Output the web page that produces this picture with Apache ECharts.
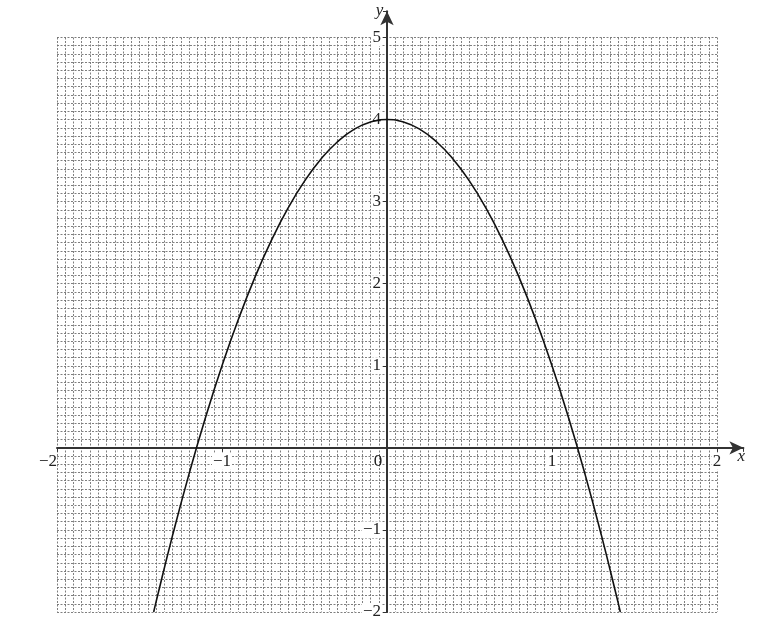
<!DOCTYPE html>
<html>
<head>
<meta charset="utf-8">
<script src="https://cdn.jsdelivr.net/npm/echarts@6/dist/echarts.min.js"></script>
<style>html,body{margin:0;padding:0;background:#fff}#c{width:768px;height:629px}</style>
</head>
<body>
<div id="c"></div>
<script>
// Curve readings
var xs = [-1.414, -1.4, -1.3, -1.2, -1.1, -1.0, -0.9, -0.8, -0.7, -0.6, -0.5, -0.4, -0.3, -0.2, -0.1, 0,
          0.1, 0.2, 0.3, 0.4, 0.5, 0.6, 0.7, 0.8, 0.9, 1.0, 1.1, 1.2, 1.3, 1.4, 1.414];
var ys = [-2.0, -1.88, -1.07, -0.32, 0.37, 1.0, 1.57, 2.08, 2.53, 2.92, 3.25, 3.52, 3.73, 3.88, 3.97, 4.0,
          3.97, 3.88, 3.73, 3.52, 3.25, 2.92, 2.53, 2.08, 1.57, 1.0, 0.37, -0.32, -1.07, -1.88, -2.0];
var xTickLabels = ['−2', '−1', '0', '1', '2'];
var yTickLabels = ['−2', '−1', '', '1', '2', '3', '4', '5'];

var pts = xs.map(function (x, i) { return [x, ys[i]]; });
var serif = '"Liberation Serif", "DejaVu Serif", serif';
var gridLine = { show: true, lineStyle: { color: '#707070', width: 0.9, type: [2, 1.5] } };

function isInt(v) { return Math.abs(v - Math.round(v)) < 1e-6; }

// layout (pixels)
var L = 57, B = 17, T0 = 37.5, R0 = 51;
var W0 = 768 - L - R0, H0 = 629 - T0 - B;
var pxX = W0 / 4, pxY = H0 / 7;
var xMax1 = 2.16, yMax1 = 5.32;
var R1 = 768 - L - (xMax1 + 2) * pxX;
var T1 = 629 - B - (yMax1 + 2) * pxY;

var chart = echarts.init(document.getElementById('c'));
chart.setOption({
  backgroundColor: '#fff',
  animation: false,
  grid: [
    { left: L, right: R0, top: T0, bottom: B },
    { left: L, right: R1, top: T1, bottom: B }
  ],
  xAxis: [
    {
      type: 'value', gridIndex: 0, min: -2, max: 2, interval: 1,
      axisLine: { show: false }, axisTick: { show: false }, axisLabel: { show: false },
      splitLine: gridLine,
      minorTick: { show: false, splitNumber: 20 },
      minorSplitLine: gridLine
    },
    {
      type: 'value', gridIndex: 1, min: -2, max: xMax1, interval: 1,
      position: 'bottom', offset: -2 * pxY,
      axisLine: { show: true, onZero: false, symbol: ['none', 'arrow'], symbolSize: [10, 14],
                  lineStyle: { color: '#333', width: 2 } },
      axisTick: { show: true, length: 4, lineStyle: { color: '#333', width: 1 } },
      splitLine: { show: false },
      axisLabel: {
        show: true, margin: 5, fontFamily: serif, fontSize: 17, color: '#222',
        formatter: function (v) {
          if (!isInt(v)) return '';
          var r = Math.round(v);
          var t = xTickLabels[r + 2];
          if (r === 0 || r === -2) return '{z|' + t + '}';
          return '{n|' + t + '}';
        },
        rich: {
          z: { fontFamily: serif, fontSize: 17, color: '#222', padding: [0, 18, 0, 0] },
          n: { fontFamily: serif, fontSize: 17, color: '#222', backgroundColor: '#fff', padding: [0, 1, 0, 1] }
        }
      },
      name: 'x', nameLocation: 'end', nameGap: -6,
      nameTextStyle: { fontFamily: serif, fontSize: 17, fontStyle: 'italic', color: '#222',
                       verticalAlign: 'top', align: 'left', padding: [0, 0, 0, 0] }
    }
  ],
  yAxis: [
    {
      type: 'value', gridIndex: 0, min: -2, max: 5, interval: 1,
      axisLine: { show: false }, axisTick: { show: false }, axisLabel: { show: false },
      splitLine: gridLine,
      minorTick: { show: false, splitNumber: 10 },
      minorSplitLine: gridLine
    },
    {
      type: 'value', gridIndex: 1, min: -2, max: yMax1, interval: 1,
      position: 'left', offset: -2 * pxX,
      axisLine: { show: true, onZero: false, symbol: ['none', 'arrow'], symbolSize: [10, 14],
                  lineStyle: { color: '#333', width: 2 } },
      axisTick: { show: true, length: 4, lineStyle: { color: '#333', width: 1 } },
      splitLine: { show: false },
      axisLabel: {
        show: true, margin: 5, fontFamily: serif, fontSize: 17, color: '#222',
        backgroundColor: '#fff', padding: [0, 1, 0, 1],
        formatter: function (v) {
          if (!isInt(v)) return '';
          return yTickLabels[Math.round(v) + 2];
        }
      },
      name: 'y', nameLocation: 'end', nameGap: -8,
      nameTextStyle: { fontFamily: serif, fontSize: 17, fontStyle: 'italic', color: '#222', padding: [0, 15, 0, 0] }
    }
  ],
  series: [
    {
      type: 'line', xAxisIndex: 0, yAxisIndex: 0, data: pts,
      smooth: true, symbol: 'none', clip: false,
      lineStyle: { color: '#111', width: 1.6 }, z: 5
    }
  ]
});
</script>
</body>
</html>
